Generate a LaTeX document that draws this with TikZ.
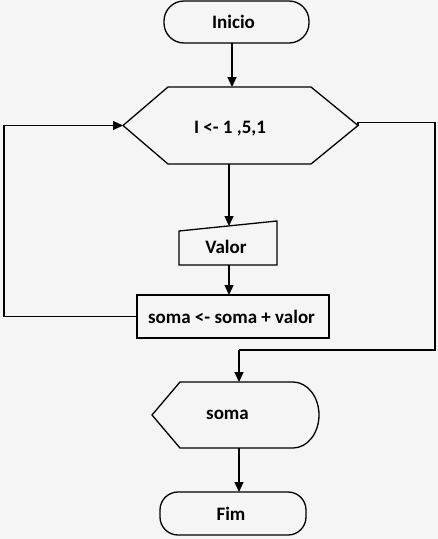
\documentclass[tikz,border=0pt]{standalone}
\usepackage{fontspec}
\setmainfont{Carlito}
\usetikzlibrary{arrows.meta,calc}
\definecolor{bgc}{RGB}{245,245,245}
\begin{document}
\begin{tikzpicture}[x=1pt,y=-1pt,
  ln/.style={draw=black,line width=1.3pt,line join=miter},
  frame/.style={inner sep=0pt,outer sep=0pt},
  lbl/.style={font=\fontsize{19}{22}\selectfont\bfseries,inner sep=0pt},
  arr/.style={line width=1.3pt,-{Triangle[length=10pt,width=9pt]}},
  con/.style={line width=1.3pt}]
\fill[bgc] (0,0) rectangle (438,539);
\useasboundingbox (0,0) rectangle (438,539);
% Inicio
\node[ln,frame,rounded corners=20pt,minimum width=145pt,minimum height=42pt,fill=bgc] (ini) at (236.5,22) {};
\node[lbl] (init) at (233.5,22) {Inicio};
% hexagon
\node[frame,minimum width=235pt,minimum height=77pt] (hex) at (240.5,125.5) {};
\draw[ln] ([xshift=45pt]hex.north west) -- ([xshift=-47pt]hex.north east) -- (hex.east)
  -- ([xshift=-47pt]hex.south east) -- ([xshift=45pt]hex.south west) -- (hex.west) -- cycle;
\node[lbl] (hext) at (230,129) {I <- 1 ,5,1};
% Valor (manual input)
\node[frame,minimum width=98pt,minimum height=44pt] (val) at (228,243) {};
\draw[ln] ([yshift=-10pt]val.north west) -- (val.north east) -- (val.south east) -- (val.south west) -- cycle;
\node[lbl] (valt) at (226,247) {Valor};
% soma box
\node[ln,frame,minimum width=192pt,minimum height=43pt] (som) at (233,316.5) {};
\node[lbl] (somt) at (231.5,317) {soma <- soma + valor};
% display
\node[frame,minimum width=167pt,minimum height=66pt] (dsp) at (235.5,415) {};
\draw[ln] (dsp.west) -- ([xshift=28pt]dsp.north west) -- ([xshift=-26pt]dsp.north east)
  arc[start angle=90,end angle=-90,x radius=26pt,y radius=33pt]
  -- ([xshift=28pt]dsp.south west) -- cycle;
\node[lbl] (dspt) at (227.5,415) {soma};
% Fim
\node[ln,frame,rounded corners=18pt,minimum width=146pt,minimum height=43pt] (fim) at (233,513.5) {};
\node[lbl] (fimt) at (231,513.5) {Fim};
% connectors
\coordinate (c1) at (232,0);
\draw[arr] (c1 |- ini.south) -- (c1 |- hex.north);
\coordinate (c2) at (229,226);
\draw[arr] (c2 |- hex.south) -- (c2);
\draw[arr] (c2 |- val.south) -- (c2 |- som.north);
\coordinate (lx) at (4,0);
\draw[arr] (som.west) -- (lx |- som.west) -- (lx |- hex.west) -- (hex.west);
\coordinate (rx) at (435,0);
\coordinate (bx) at (239,350);
\draw[con] (hex.east) -- ++(0,-3) -- (rx |- 0,122.5) -- (rx |- bx) -- (bx);
\draw[arr] (bx) -- (bx |- dsp.north);
\draw[arr] (bx |- dsp.south) -- (bx |- fim.north);
\end{tikzpicture}
\end{document}
